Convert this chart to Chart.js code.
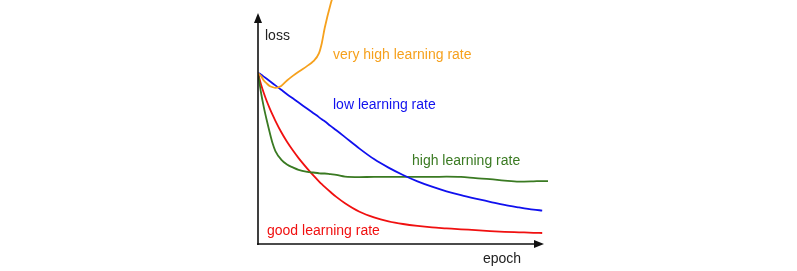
<!DOCTYPE html>
<html>
<head>
<meta charset="utf-8">
<title>learning rates</title>
<script src="https://cdn.jsdelivr.net/npm/chart.js@4/dist/chart.umd.min.js"></script>
<style>
  body { margin: 0; background: #fff; }
  canvas { display: block; }
</style>
</head>
<body>
<canvas id="lossChart" width="797" height="271"></canvas>
<script>
var epochs = [0, 1, 2, 3, 4, 5, 6, 8, 10, 12, 14, 17, 19, 21, 22, 23, 25, 27,
  30, 35, 40, 45, 50, 55, 60, 65, 70, 75, 80, 85, 90, 95, 98, 100];

var veryHighLoss = [70.1, 68.9, 67.0, 65.8, 64.8, 64.3, 64.0, 64.8, 67.0, 68.9, 70.6, 73.0, 74.8, 78.1, 82.3, 88.5, 98.2, 105.7,
  null, null, null, null, null, null, null, null, null, null, null, null, null, null, null, null];
var lowLoss = [70.1, 69.5, 68.6, 67.7, 66.8, 65.9, 65.0, 63.2, 61.4, 59.7, 58.0, 55.4, 53.7, 52.0, 51.1, 50.3, 48.4, 46.6,
  43.8, 39.1, 34.8, 31.3, 28.3, 25.7, 23.5, 21.6, 20.0, 18.6, 17.3, 16.0, 15.0, 14.1, 13.7, null];
var highLoss = [70.1, 62.3, 56.1, 50.8, 45.9, 41.4, 38.1, 34.6, 32.6, 31.4, 30.4, 29.6, 29.3, 29.0, 28.9, 28.9, 28.6, 28.3,
  27.6, 27.4, 27.5, 27.5, 27.5, 27.5, 27.5, 27.6, 27.5, 27.0, 26.6, 26.0, 25.6, 25.7, 25.8, 25.8];
var goodLoss = [70.1, 65.6, 61.9, 58.6, 55.7, 53.0, 50.5, 45.9, 41.9, 38.4, 35.2, 30.9, 28.2, 25.7, 24.5, 23.4, 21.3, 19.3,
  16.7, 13.2, 10.9, 9.3, 8.2, 7.4, 6.8, 6.4, 6.0, 5.7, 5.3, 5.0, 4.8, 4.6, 4.5, null];

var seriesLabels = ["very high learning rate", "low learning rate", "high learning rate", "good learning rate"];
var lineColors = ["#f6a11d", "#1010ee", "#3a7a22", "#f01010"];

function points(values) {
  var out = [];
  for (var i = 0; i < epochs.length; i++) {
    out.push({ x: epochs[i], y: values[i] });
  }
  return out;
}

var allSeries = [veryHighLoss, lowLoss, highLoss, goodLoss];
var datasets = allSeries.map(function (vals, i) {
  return {
    label: seriesLabels[i],
    data: points(vals),
    borderColor: lineColors[i],
    borderWidth: 1.8,
    pointRadius: 0,
    fill: false,
    spanGaps: false,
    cubicInterpolationMode: 'monotone'
  };
});

// axes with arrow heads and the text labels written into the plot
var sketchPlugin = {
  id: 'sketch',
  afterDatasetsDraw: function (chart) {
    var ctx = chart.ctx;
    var area = chart.chartArea;
    var x0 = area.left, y0 = area.bottom;
    ctx.save();
    ctx.strokeStyle = '#111';
    ctx.fillStyle = '#111';
    ctx.lineWidth = 1.6;
    ctx.beginPath();
    ctx.moveTo(x0, y0 + 1);
    ctx.lineTo(x0, 20);
    ctx.moveTo(x0 - 1, y0);
    ctx.lineTo(536, y0);
    ctx.stroke();
    // up arrow
    ctx.beginPath();
    ctx.moveTo(x0, 13);
    ctx.lineTo(x0 - 4, 23);
    ctx.lineTo(x0 + 4, 23);
    ctx.closePath();
    ctx.fill();
    // right arrow
    ctx.beginPath();
    ctx.moveTo(544, y0);
    ctx.lineTo(534, y0 - 4);
    ctx.lineTo(534, y0 + 4);
    ctx.closePath();
    ctx.fill();

    ctx.font = '14px Arial, "Liberation Sans", sans-serif';
    ctx.textBaseline = 'alphabetic';
    ctx.textAlign = 'left';
    ctx.fillStyle = '#222';
    ctx.fillText('loss', 265, 40);
    ctx.fillText('epoch', 483, 263);
    ctx.fillStyle = lineColors[0];
    ctx.fillText(seriesLabels[0], 333, 59);
    ctx.fillStyle = lineColors[1];
    ctx.fillText(seriesLabels[1], 333, 109);
    ctx.fillStyle = lineColors[2];
    ctx.fillText(seriesLabels[2], 412, 165);
    ctx.fillStyle = lineColors[3];
    ctx.fillText(seriesLabels[3], 267, 235);
    ctx.restore();
  }
};

var ctx = document.getElementById("lossChart").getContext("2d");
var lossChart = new Chart(ctx, {
  type: 'line',
  data: { datasets: datasets },
  options: {
    responsive: false,
    animation: false,
    layout: {
      padding: { left: 258, right: 249, top: 0, bottom: 27 }
    },
    scales: {
      x: { type: 'linear', min: 0, max: 100, display: false },
      y: { type: 'linear', min: 0, max: 100, display: false }
    },
    plugins: {
      legend: { display: false },
      tooltip: { enabled: false }
    }
  },
  plugins: [sketchPlugin]
});
</script>
</body>
</html>
